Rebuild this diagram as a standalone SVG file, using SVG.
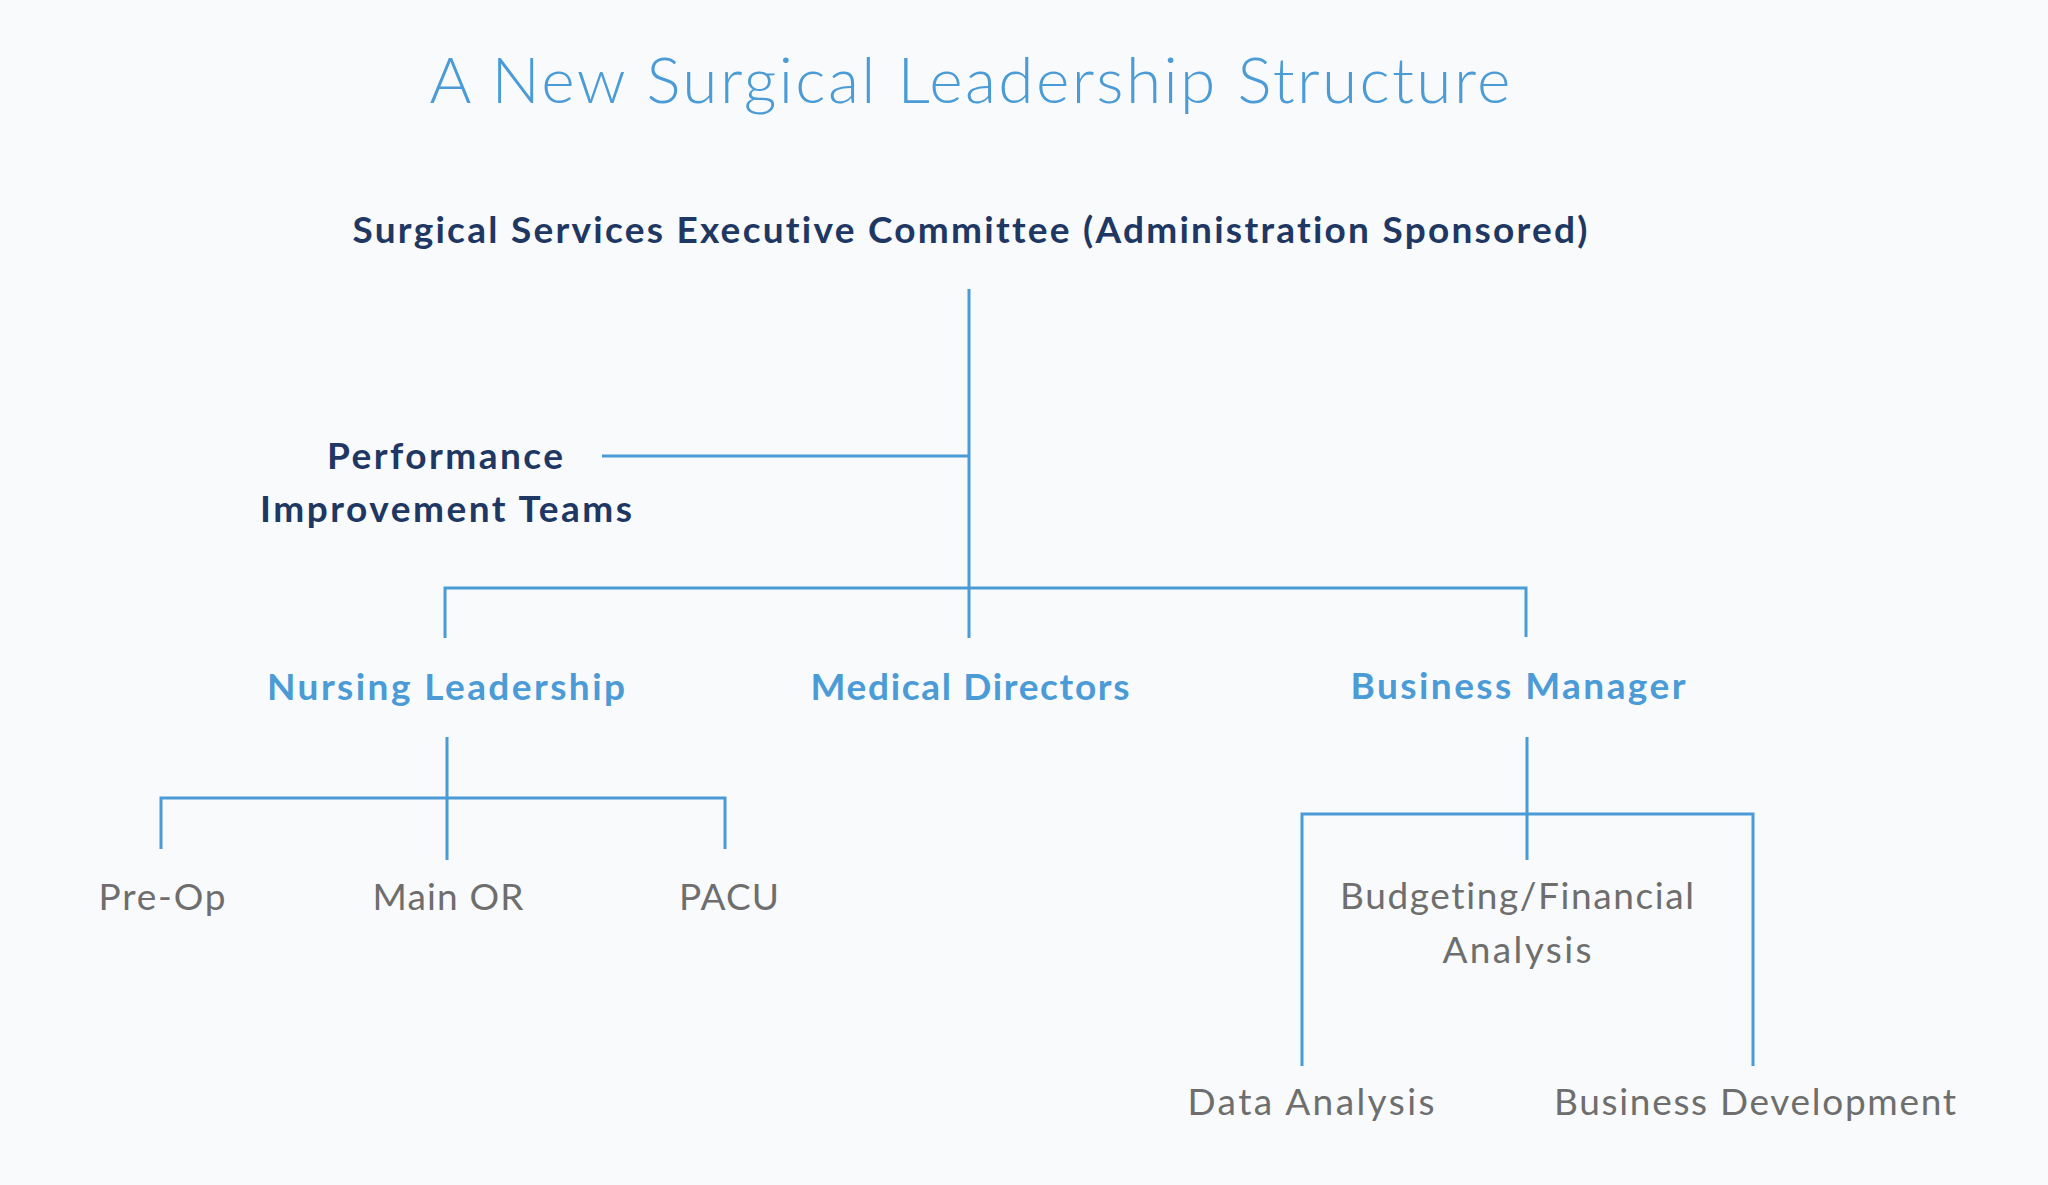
<svg xmlns="http://www.w3.org/2000/svg" width="2048" height="1185" viewBox="0 0 2048 1185">
<style>
text{font-family:Lato,"Open Sans","Liberation Sans",sans-serif;text-anchor:middle;font-variant-ligatures:none}
.title{font-size:64px;font-weight:300;fill:#4a9bd6}
.exec{font-size:37px;font-weight:700;fill:#1f3763}
.lvl1{font-size:37px;font-weight:700;fill:#4a9bd6}
.leaf{font-size:37px;font-weight:400;fill:#6e6e6e}
.conn{fill:none;stroke:#4a9bd6;stroke-width:3}
</style>
<rect width="2048" height="1185" fill="#f8fafc"/>
<text id="title" class="title" x="970" y="103" textLength="1081" lengthAdjust="spacing">A New Surgical Leadership Structure</text>
<g id="connectors">
<path class="conn" d="M969 289V638"/>
<path class="conn" d="M602 456H969"/>
<path class="conn" d="M445 638V588H1526V637"/>
<path class="conn" d="M447 737V860"/>
<path class="conn" d="M161 849V798H725V849"/>
<path class="conn" d="M1527 737V860"/>
<path class="conn" d="M1302 1066V814H1753V1066"/>
</g>
<g id="exec"><text class="exec" x="970" y="243" textLength="1235" lengthAdjust="spacing">Surgical Services Executive Committee (Administration Sponsored)</text></g>
<g id="pit"><text class="exec" x="445" y="469" textLength="236" lengthAdjust="spacing">Performance</text><text class="exec" x="446" y="522" textLength="372" lengthAdjust="spacing">Improvement Teams</text></g>
<g id="nursing"><text class="lvl1" x="446" y="700" textLength="358" lengthAdjust="spacing">Nursing Leadership</text></g>
<g id="medical"><text class="lvl1" x="970" y="700" textLength="319" lengthAdjust="spacing">Medical Directors</text></g>
<g id="business"><text class="lvl1" x="1518" y="699" textLength="335" lengthAdjust="spacing">Business Manager</text></g>
<g id="preop"><text class="leaf" x="162" y="910" textLength="127" lengthAdjust="spacing">Pre-Op</text></g>
<g id="mainor"><text class="leaf" x="448" y="910" textLength="151" lengthAdjust="spacing">Main OR</text></g>
<g id="pacu"><text class="leaf" x="729" y="910" textLength="100" lengthAdjust="spacing">PACU</text></g>
<g id="budget"><text class="leaf" x="1517" y="909" textLength="354" lengthAdjust="spacing">Budgeting/Financial</text><text class="leaf" x="1517" y="963" textLength="149" lengthAdjust="spacing">Analysis</text></g>
<g id="data"><text class="leaf" x="1311" y="1115" textLength="247" lengthAdjust="spacing">Data Analysis</text></g>
<g id="bizdev"><text class="leaf" x="1755" y="1115" textLength="402" lengthAdjust="spacing">Business Development</text></g>
</svg>
